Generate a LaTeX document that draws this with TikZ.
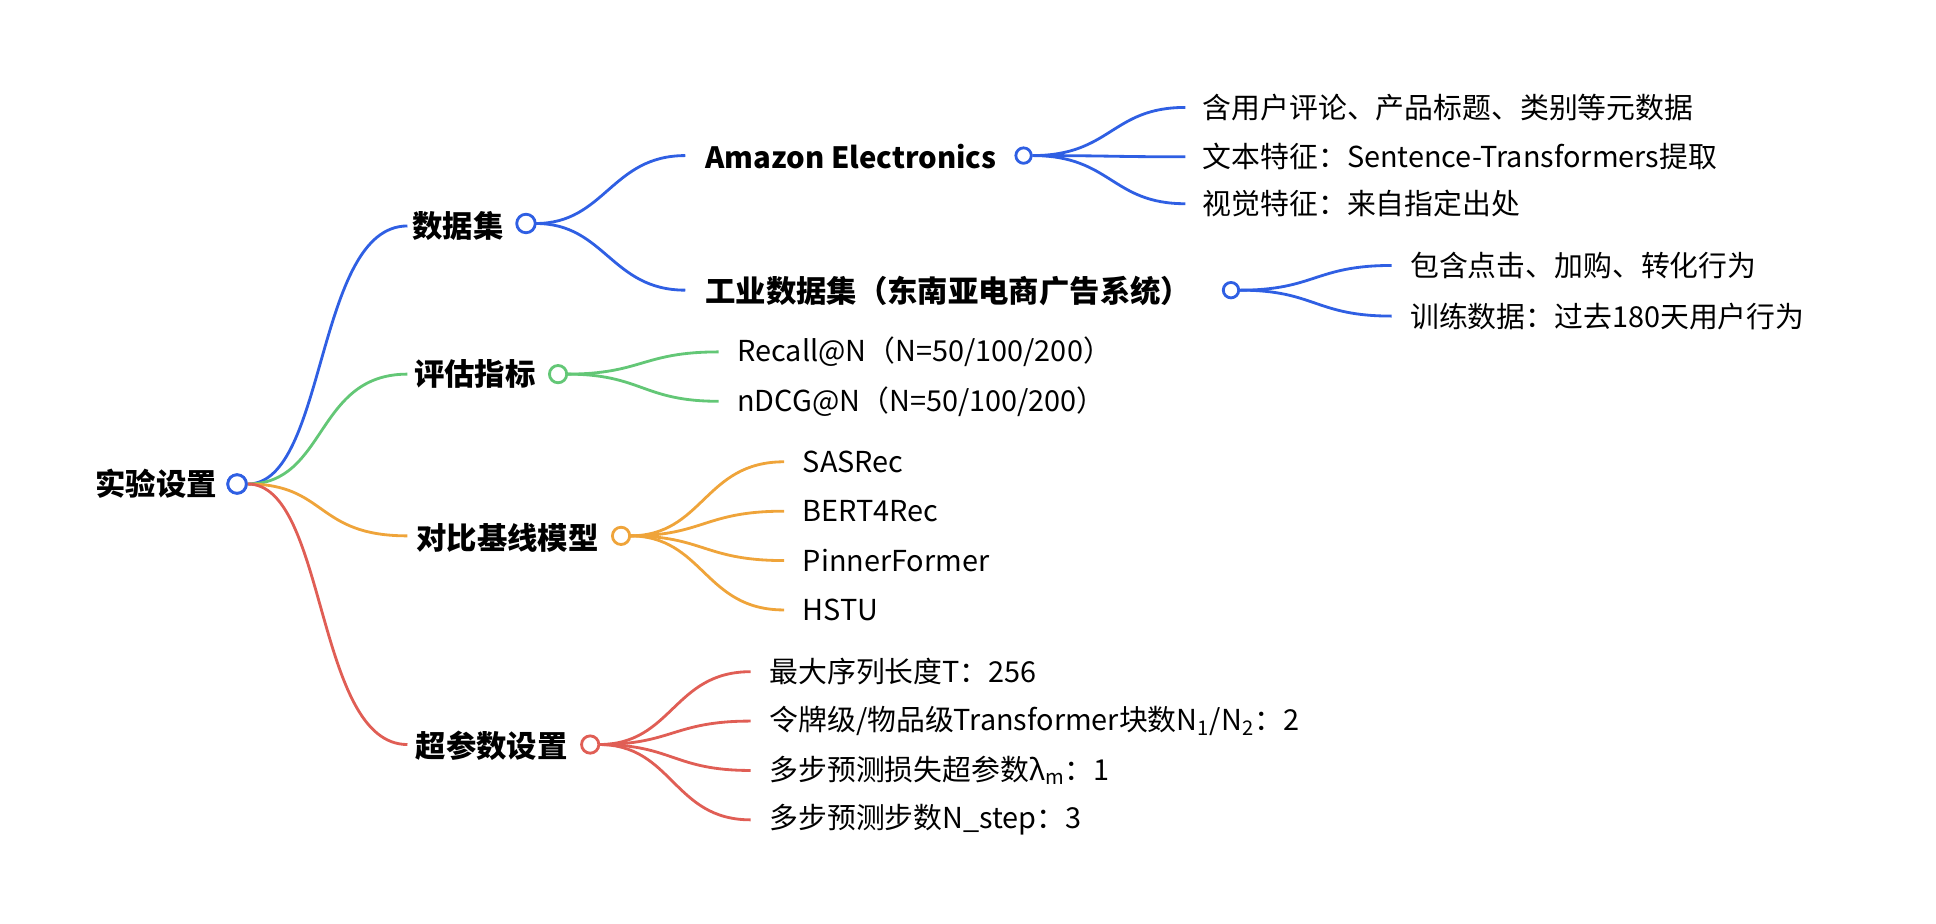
\documentclass[tikz,border=0pt]{standalone}
\usepackage{fontspec}
\setmainfont{Noto Sans CJK SC}
\begin{document}
\begin{tikzpicture}[x=0.02cm,y=-0.02cm,
 bl/.style={font=\fontsize{14}{16}\selectfont\bfseries},
 lf/.style={font=\fontsize{13.3}{15}\selectfont},
 circ/.style={circle,draw,line width=1.3pt,fill=white,minimum size=0.3cm,inner sep=0pt},
 e/.style={line width=1.3pt}]
\definecolor{cb}{HTML}{2F5FE3}
\definecolor{cg}{HTML}{63C776}
\definecolor{co}{HTML}{EFA43A}
\definecolor{cr}{HTML}{E05E55}
\useasboundingbox (0,0) rectangle (1568,748);
% root
\node[bl,anchor=east] (root) at (182,392) {实验设置};
\node[circ,draw=cb] (rc) at (192,392) {};
% level1
\node[bl,anchor=east] (d) at (414,183) {数据集};
\node[bl,anchor=east] (m) at (440,303) {评估指标};
\node[bl,anchor=east] (b) at (491,436) {对比基线模型};
\node[bl,anchor=east] (h) at (466,604) {超参数设置};
\coordinate (de) at (330,183); \coordinate (me) at (330,303);
\coordinate (be) at (330,434); \coordinate (he) at (330,603);
\draw[e,cb] (rc.east) .. controls (265,392) and (255,183) .. (de);
\draw[e,cg] (rc.east) .. controls (265,392) and (255,303) .. (me);
\draw[e,co] (rc.east) .. controls (265,392) and (255,434) .. (be);
\draw[e,cr] (rc.east) .. controls (265,392) and (255,603) .. (he);
\node[circ,draw=cb] (rc2) at (192,392) {};
% data
\node[bl,anchor=west,font=\fontsize{13.5}{16}\selectfont\bfseries] (a) at (565,127) {Amazon Electronics};
\node[bl,anchor=west] (i) at (565,236) {工业数据集（东南亚电商广告系统）};
\coordinate (ae) at (555,126); \coordinate (ie) at (555,235);
\draw[e,cb] (434,181) .. controls (490,181) and (495,126) .. (ae);
\draw[e,cb] (434,181) .. controls (490,181) and (495,235) .. (ie);
\node[circ,draw=cb] (dc) at (426,181) {};
\node[circ,draw=cb,minimum size=0.25cm] (ac) at (829,126) {};
\node[circ,draw=cb,minimum size=0.25cm] (ic) at (997,235) {};
\foreach \t/\y/\n in {{含用户评论、产品标题、类别等元数据}/87/a1,{文本特征：Sentence-Transformers提取}/127/a2,{视觉特征：来自指定出处}/165/a3}{
 \node[lf,anchor=west] (\n) at (968,\y) {\t};
 \draw[e,cb] (ac.east) .. controls (900,126) and (900,\y) .. (960,\y);}
\foreach \t/\y/\n in {{包含点击、加购、转化行为}/215/i1,{训练数据：过去180天用户行为}/256/i2}{
 \node[lf,anchor=west] (\n) at (1136,\y) {\t};
 \draw[e,cb] (ic.east) .. controls (1065,235) and (1065,\y) .. (1127,\y);}
% metrics
\foreach \t/\y/\n in {{Recall@N（N=50/100/200）}/285/m1,{nDCG@N（N=50/100/200）}/325/m2}{
 \node[lf,anchor=west] (\n) at (591,\y) {\t};
 \draw[e,cg] (459,303) .. controls (520,303) and (520,\y) .. (582,\y);}
\node[circ,draw=cg,minimum size=0.28cm] (mc) at (452,303) {};
% baselines
\foreach \t/\y/\n in {{SASRec}/374/b1,{BERT4Rec}/414/b2,{PinnerFormer}/454/b3,{HSTU}/494/b4}{
 \node[lf,anchor=west] (\n) at (644,\y) {\t};
 \draw[e,co] (510,434) .. controls (570,434) and (570,\y) .. (635,\y);}
\node[circ,draw=co,minimum size=0.28cm] (bc) at (503,434) {};
% hyper
\foreach \t/\y/\n in {{最大序列长度T：256}/544/h1,{令牌级/物品级Transformer块数N\textsubscript{1}/N\textsubscript{2}：2}/584/h2,{多步预测损失超参数λ\textsubscript{m}：1}/624/h3,{多步预测步数N\_step：3}/664/h4}{
 \node[lf,anchor=west] (\n) at (617,\y) {\t};
 \draw[e,cr] (485,603) .. controls (545,603) and (545,\y) .. (608,\y);}
\node[circ,draw=cr,minimum size=0.28cm] (hc) at (478,603) {};
\end{tikzpicture}
\end{document}
